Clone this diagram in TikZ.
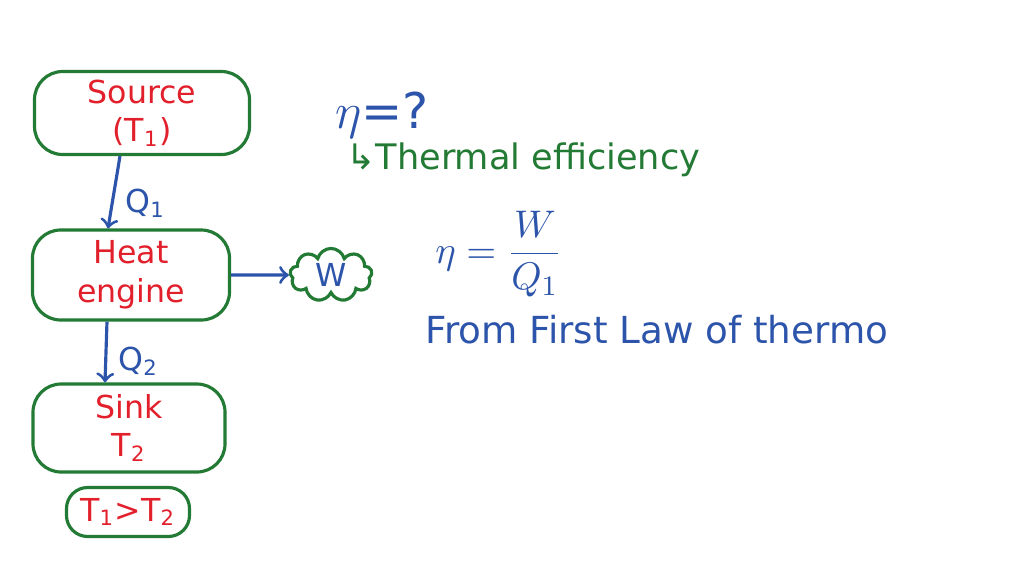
\documentclass[tikz,border=0pt]{standalone}
\usepackage{amsmath}
\usepackage{fontspec}
\setmainfont{DejaVu Sans}
\usepackage{tikz}
\usetikzlibrary{shapes.symbols}

\definecolor{penred}{RGB}{226,32,44}
\definecolor{pengreen}{RGB}{34,122,52}
\definecolor{penblue}{RGB}{44,84,170}

\begin{document}
\begin{tikzpicture}[line width=0.9pt,
	block/.style={draw=pengreen, rounded corners=8pt, text=penred, align=center,
		inner sep=0pt, font=\fontsize{9}{11}\selectfont},
	flow/.style={draw=penblue, ->},
	note/.style={text=penblue, font=\fontsize{9}{11}\selectfont}]

	\useasboundingbox (0,0) rectangle (10.24,5.76);

	% the engine chain
	\node[block, minimum width=2.15cm, minimum height=0.83cm] (src) at (1.42,4.63) {Source\\(T\textsubscript{1})};
	\node[block, minimum width=1.97cm, minimum height=0.90cm] (eng) at (1.31,3.01) {Heat\\engine};
	\node[block, minimum width=1.92cm, minimum height=0.88cm] (snk) at (1.29,1.48) {Sink\\T\textsubscript{2}};
	\node[block, minimum width=1.23cm, minimum height=0.49cm, rounded corners=6pt] (cmp) at (1.28,0.64) {T\textsubscript{1}>T\textsubscript{2}};
	\node[cloud, cloud puffs=9, draw=pengreen, text=penblue, minimum width=0.82cm, minimum height=0.50cm,
		inner sep=0pt, font=\fontsize{9}{11}\selectfont] (wrk) at (3.31,3.01) {W};

	\draw[flow] ([xshift=-0.22cm]src.south) -- ([xshift=-0.23cm]eng.north)
		node[note, pos=0.65, right] (q1) {Q\textsubscript{1}};
	\draw[flow] ([xshift=-0.24cm]eng.south) -- ([xshift=-0.24cm]snk.north)
		node[note, pos=0.97, anchor=south west, inner ysep=1pt] (q2) {Q\textsubscript{2}};
	\draw[flow] (eng.east) -- (wrk.west);

	% efficiency notes
	\node[note, anchor=west, font=\fontsize{14}{17}\selectfont] (eta) at (3.22,4.61) {$\eta$=?};
	\node[anchor=west, text=pengreen, font=\fontsize{10}{12}\selectfont] (thm) at (3.33,4.16) {↳Thermal efficiency};
	\node[note, anchor=west, font=\fontsize{11}{13}\selectfont] (frac) at (4.22,3.22) {$\eta=\dfrac{W}{Q_1}$};
	\node[note, anchor=west, font=\fontsize{10.6}{13}\selectfont] (law) at (4.12,2.46) {From First Law of thermo};
\end{tikzpicture}
\end{document}
